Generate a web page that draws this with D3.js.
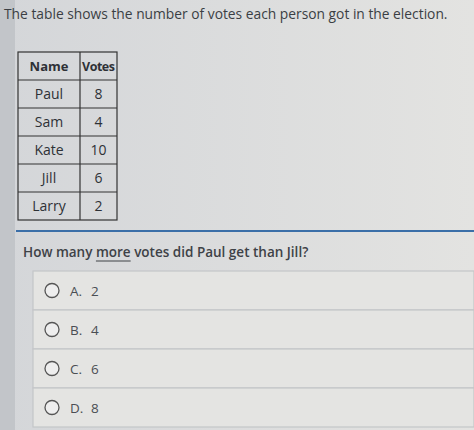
<!DOCTYPE html>
<html><head><meta charset="utf-8">
<script src="https://cdn.jsdelivr.net/npm/d3@7"></script>
<style>body{margin:0;background:#d9dadc}</style></head>
<body><svg id="c"></svg>
<script>
var names = ["Paul","Sam","Kate","Jill","Larry"];
var votes = [8,4,10,6,2];
var letters = ["A.","B.","C.","D."];
var answers = [2,4,6,8];

var W = 474, H = 430;
var svg = d3.select("#c").attr("width",W).attr("height",H)
  .style("font-family","'Open Sans',sans-serif");

// background: photo-ish grey panels
var g = svg.append("defs").append("linearGradient").attr("id","bg").attr("x1",0).attr("x2",1);
g.append("stop").attr("offset",0).attr("stop-color","#d4d6d9");
g.append("stop").attr("offset",1).attr("stop-color","#e3e3e1");
svg.append("rect").attr("width",W).attr("height",H).attr("fill","url(#bg)");
svg.append("rect").attr("width",15).attr("height",H).attr("fill","#c2c5c9");

svg.append("text").attr("x",4).attr("y",19).attr("font-size",13.8).attr("fill","#3b3f44")
  .text("The table shows the number of votes each person got in the election.");

// table
var rows = ["Name"].concat(names);
var y = d3.scaleBand().domain(d3.range(rows.length)).range([52,220]);
var x0 = 18, x1 = 80, x2 = 117;
var t = svg.append("g");
t.append("rect").attr("x",x0).attr("y",52).attr("width",x2-x0).attr("height",168)
  .attr("fill","none").attr("stroke","#333").attr("stroke-width",1.2);
t.append("line").attr("x1",x1).attr("x2",x1).attr("y1",52).attr("y2",220).attr("stroke","#333").attr("stroke-width",1.2);
t.selectAll(".hl").data(d3.range(1,rows.length)).enter().append("line")
  .attr("x1",x0).attr("x2",x2).attr("y1",d=>y(d)).attr("y2",d=>y(d)).attr("stroke","#333").attr("stroke-width",1.2);
t.selectAll(".n").data(rows).enter().append("text")
  .attr("x",(x0+x1)/2).attr("y",(d,i)=>y(i)+y.bandwidth()/2+5).attr("text-anchor","middle")
  .attr("font-size",(d,i)=>i?14:13).attr("font-weight",(d,i)=>i?400:700).attr("fill","#2e3136").text(d=>d);
t.selectAll(".v").data(["Votes"].concat(votes)).enter().append("text")
  .attr("x",(x1+x2)/2).attr("y",(d,i)=>y(i)+y.bandwidth()/2+5).attr("text-anchor","middle")
  .attr("font-size",(d,i)=>i?14:12.5).attr("font-weight",(d,i)=>i?400:700).attr("fill","#2e3136")
  .attr("textLength",(d,i)=>i?null:33).text(d=>d);

svg.append("line").attr("x1",16).attr("x2",W).attr("y1",231).attr("y2",231)
  .attr("stroke","#3b6fa8").attr("stroke-width",2);

var q = svg.append("text").attr("x",23).attr("y",257).attr("font-size",13.5).attr("font-weight",600)
  .attr("fill","#3e4247");
q.append("tspan").text("How many ");
var m = q.append("tspan").text("more");
q.append("tspan").text(" votes did Paul get than Jill?");
var ms = q.node().getSubStringLength(0,9), ml = q.node().getSubStringLength(9,4);
svg.append("line").attr("x1",23+ms).attr("x2",23+ms+ml).attr("y1",261).attr("y2",261)
  .attr("stroke","#3e4247").attr("stroke-width",1);

// options
var oy = d3.scaleBand().domain(d3.range(answers.length)).range([271,427]);
var o = svg.selectAll(".opt").data(answers).enter().append("g")
  .attr("transform",(d,i)=>"translate(0,"+oy(i)+")");
o.append("rect").attr("x",33).attr("y",0).attr("width",W-33).attr("height",oy.bandwidth())
  .attr("fill","#e4e4e2").attr("stroke","#c4c6c8").attr("stroke-width",1.2);
o.append("circle").attr("cx",52).attr("cy",oy.bandwidth()/2).attr("r",7)
  .attr("fill","#eee").attr("stroke","#555").attr("stroke-width",1.3);
o.append("text").attr("x",70).attr("y",oy.bandwidth()/2+5).attr("font-size",13.5).attr("fill","#4a4e53")
  .text((d,i)=>letters[i]);
o.append("text").attr("x",91).attr("y",oy.bandwidth()/2+5).attr("font-size",13.5).attr("fill","#4a4e53")
  .text(d=>d);
</script></body></html>
